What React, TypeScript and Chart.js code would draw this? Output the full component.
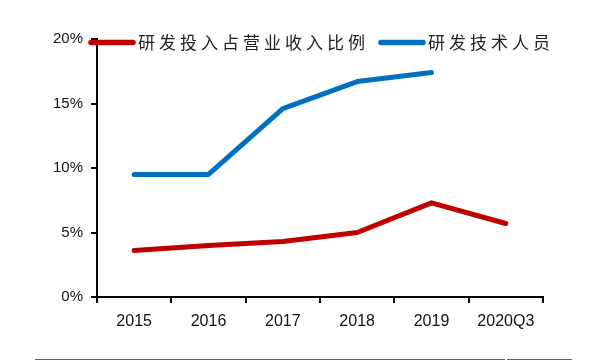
import React, { useEffect, useRef } from "react";
import { Chart, registerables } from "chart.js";

Chart.register(...registerables);

const categories = ["2015", "2016", "2017", "2018", "2019", "2020Q3"];
const rdRatio = [3.6, 4.0, 4.3, 5.0, 7.3, 5.7];
const rdStaff: (number | null)[] = [9.5, 9.5, 14.6, 16.7, 17.4, null];
const seriesNames = ["研发投入占营业收入比例", "研发技术人员"];
const yTicks = [0, 5, 10, 15, 20];

const legendPlugin = {
  id: "customLegend",
  afterDraw(chart: any) {
    const { ctx, chartArea } = chart;
    ctx.save();
    let x = chartArea.left - 8;
    const y = chartArea.top + 3.5;
    chart.data.datasets.forEach((ds: any) => {
      ctx.strokeStyle = ds.borderColor;
      ctx.lineWidth = 5.5;
      ctx.lineCap = "round";
      ctx.beginPath();
      ctx.moveTo(x + 2, y);
      ctx.lineTo(x + 44, y);
      ctx.stroke();
      x += 49;
      ctx.font = '17px "Noto Sans CJK SC"';
      (ctx as any).letterSpacing = "4px";
      ctx.fillStyle = "#222";
      ctx.textBaseline = "middle";
      ctx.textAlign = "left";
      ctx.fillText(ds.label, x, y);
      x += ctx.measureText(ds.label).width + 10;
      (ctx as any).letterSpacing = "0px";
    });
    ctx.restore();
  },
};

export default function App() {
  const ref = useRef<HTMLCanvasElement>(null);
  useEffect(() => {
    document.body.style.margin = "0";
    const chart = new Chart(ref.current!, {
      type: "line",
      data: {
        labels: categories,
        datasets: [
          {
            label: seriesNames[0],
            data: rdRatio,
            borderColor: "#C00000",
            backgroundColor: "#C00000",
            borderWidth: 5,
            pointRadius: 0,
            tension: 0,
            borderCapStyle: "round",
            borderJoinStyle: "round",
          },
          {
            label: seriesNames[1],
            data: rdStaff,
            borderColor: "#0070C0",
            backgroundColor: "#0070C0",
            borderWidth: 5,
            pointRadius: 0,
            tension: 0,
            borderCapStyle: "round",
            borderJoinStyle: "round",
          },
        ],
      },
      options: {
        responsive: false,
        animation: false,
        devicePixelRatio: 1,
        layout: { padding: { top: 39, right: 70, left: 0, bottom: 0 } },
        plugins: { legend: { display: false }, tooltip: { enabled: false } },
        scales: {
          x: {
            type: "category",
            offset: true,
            grid: {
              offset: true,
              drawOnChartArea: false,
              drawTicks: true,
              tickLength: 6,
              color: "#000",
              lineWidth: 2,
            },
            border: { color: "#000", width: 2 },
            ticks: {
              color: "#111",
              font: { family: '"Liberation Sans", Arial, sans-serif', size: 16 },
              padding: 9,
              maxRotation: 0,
            },
            afterFit: (s: any) => {
              s.height = 65;
              s.paddingLeft = 0;
              s.paddingRight = 0;
            },
          },
          y: {
            min: 0,
            max: 20,
            afterBuildTicks: (s: any) => {
              s.ticks = yTicks.map((v) => ({ value: v }));
            },
            grid: {
              drawOnChartArea: false,
              drawTicks: true,
              tickLength: 6,
              color: "#000",
              lineWidth: 2,
            },
            border: { color: "#000", width: 2 },
            ticks: {
              color: "#111",
              font: { family: '"Liberation Sans", Arial, sans-serif', size: 15 },
              padding: 8,
              callback: (v: any) => v + "%",
            },
            afterFit: (s: any) => {
              s.width = 97;
              s.paddingTop = 0;
              s.paddingBottom = 0;
            },
          },
        },
      },
      plugins: [legendPlugin],
    });
    return () => chart.destroy();
  }, []);
  return (
    <div style={{ position: "fixed", left: 0, top: 0, width: 613, height: 362, background: "#fff" }}>
      <canvas ref={ref} width={613} height={362} />
      <div style={{ position: "absolute", left: 35, top: 359, width: 470, height: 1, background: "#C0304E" }} />
      <div style={{ position: "absolute", left: 507, top: 359, width: 65, height: 1, background: "#C0304E" }} />
    </div>
  );
}
